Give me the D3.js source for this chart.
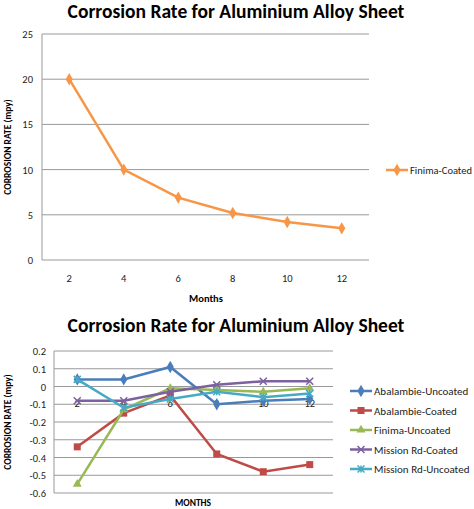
<!DOCTYPE html>
<html><head><meta charset="utf-8">
<script src="https://cdn.jsdelivr.net/npm/d3@7"></script>
<style>body{margin:0;background:#fff}text{font-family:Calibri,Carlito,"Open Sans",sans-serif}</style>
</head><body>
<svg id="c" width="474" height="509"></svg>
<script>
const months = ["2","4","6","8","10","12"];
const topTicks = [0,5,10,15,20,25];
const finimaCoated = [20,10,6.9,5.2,4.2,3.5];
const botTicks = [0.2,0.1,0,-0.1,-0.2,-0.3,-0.4,-0.5,-0.6];
const seriesNames = ["Abalambie-Uncoated","Abalambie-Coated","Finima-Uncoated","Mission Rd-Coated","Mission Rd-Uncoated"];
const seriesColors = ["#4a7ebb","#be4b48","#98b954","#7d60a0","#46aac5"];
const seriesMarkers = ["diamond","square","triangle","x","star"];
const abalambieUncoated = [0.04,0.04,0.11,-0.10,-0.08,-0.07];
const abalambieCoated = [-0.34,-0.15,-0.05,-0.38,-0.48,-0.44];
const finimaUncoated = [-0.55,-0.13,-0.01,-0.02,-0.03,-0.01];
const missionCoated = [-0.08,-0.08,-0.03,0.01,0.03,0.03];
const missionUncoated = [0.04,-0.12,-0.07,-0.03,-0.06,-0.04];
const seriesValues = [abalambieUncoated,abalambieCoated,finimaUncoated,missionCoated,missionUncoated];

const svg = d3.select("#c");
function marker(g, type, x, y, color, s){
  if(type==="diamond") g.append("path").attr("d",d3.symbol(d3.symbolDiamond,s*s*0.9)()).attr("transform",`translate(${x},${y})`).attr("fill",color);
  else if(type==="square") g.append("rect").attr("x",x-s/2).attr("y",y-s/2).attr("width",s).attr("height",s).attr("fill",color);
  else if(type==="triangle") g.append("path").attr("d",d3.symbol(d3.symbolTriangle,s*s*0.7)()).attr("transform",`translate(${x},${y})`).attr("fill",color);
  else { const r=s/2;
    g.append("path").attr("d",`M${x-r},${y-r}L${x+r},${y+r}M${x-r},${y+r}L${x+r},${y-r}`+(type==="star"?`M${x},${y-r}L${x},${y+r}`:"")).attr("stroke",color).attr("stroke-width",1.5);
  }
}

// Top chart
{
  const x = d3.scaleBand().domain(months).range([42,369]);
  const y = d3.scaleLinear().domain([0,25]).range([260,34]);
  const g = svg.append("g");
  g.append("text").attr("x",236).attr("y",18).attr("text-anchor","middle").attr("font-size",19.5).attr("font-weight","bold").text("Corrosion Rate for Aluminium Alloy Sheet");
  topTicks.forEach(t=>{
    g.append("line").attr("x1",42).attr("x2",369).attr("y1",y(t)).attr("y2",y(t)).attr("stroke","#999").attr("stroke-width",1);
    g.append("text").attr("x",33).attr("y",y(t)+4).attr("text-anchor","end").attr("font-size",10.5).attr("fill","#222").text(t);
  });
  g.append("line").attr("x1",42).attr("x2",42).attr("y1",34).attr("y2",260).attr("stroke","#999");
  months.forEach(m=>g.append("text").attr("x",x(m)+x.bandwidth()/2).attr("y",282).attr("text-anchor","middle").attr("font-size",10.5).attr("fill","#222").text(m));
  g.append("text").attr("x",206).attr("y",302).attr("text-anchor","middle").attr("font-size",10.5).attr("font-weight","bold").text("Months");
  g.append("text").attr("transform","translate(11,147) rotate(-90)").attr("text-anchor","middle").attr("font-size",9.5).attr("font-weight","bold").text("CORROSION RATE (mpy)");
  const line = d3.line().x((d,i)=>x(months[i])+x.bandwidth()/2).y(d=>y(d));
  g.append("path").attr("d",line(finimaCoated)).attr("fill","none").attr("stroke","#f79646").attr("stroke-width",2.5);
  finimaCoated.forEach((d,i)=>marker(g,"diamond",x(months[i])+x.bandwidth()/2,y(d),"#f79646",7));
  g.append("line").attr("x1",386).attr("x2",408).attr("y1",170).attr("y2",170).attr("stroke","#f79646").attr("stroke-width",2.5);
  marker(g,"diamond",397,170,"#f79646",7);
  g.append("text").attr("x",410).attr("y",174).attr("font-size",10.5).attr("fill","#222").text("Finima-Coated");
}

// Bottom chart
{
  const x = d3.scaleBand().domain(months).range([54,333]);
  const y = d3.scaleLinear().domain([-0.6,0.2]).range([493,351]);
  const g = svg.append("g");
  g.append("text").attr("x",236).attr("y",332).attr("text-anchor","middle").attr("font-size",19.5).attr("font-weight","bold").text("Corrosion Rate for Aluminium Alloy Sheet");
  botTicks.forEach(t=>{
    g.append("line").attr("x1",54).attr("x2",333).attr("y1",y(t)).attr("y2",y(t)).attr("stroke","#999");
    g.append("text").attr("x",46).attr("y",y(t)+4).attr("text-anchor","end").attr("font-size",10.5).attr("fill","#222").text(Math.round(t*10)/10);
  });
  g.append("line").attr("x1",54).attr("x2",54).attr("y1",351).attr("y2",493).attr("stroke","#999");
  months.forEach(m=>g.append("text").attr("x",x(m)+x.bandwidth()/2).attr("y",y(0)+20).attr("text-anchor","middle").attr("font-size",10.5).attr("fill","#222").text(m));
  g.append("text").attr("x",193).attr("y",506).attr("text-anchor","middle").attr("font-size",9.5).attr("font-weight","bold").text("MONTHS");
  g.append("text").attr("transform","translate(11,422) rotate(-90)").attr("text-anchor","middle").attr("font-size",9.5).attr("font-weight","bold").text("CORROSION RATE (mpy)");
  const line = d3.line().x((d,i)=>x(months[i])+x.bandwidth()/2).y(d=>y(d));
  seriesValues.forEach((vals,k)=>{
    g.append("path").attr("d",line(vals)).attr("fill","none").attr("stroke",seriesColors[k]).attr("stroke-width",2.5);
    vals.forEach((d,i)=>marker(g,seriesMarkers[k],x(months[i])+x.bandwidth()/2,y(d),seriesColors[k],7));
    const ly = 391 + k*19.5;
    g.append("line").attr("x1",350).attr("x2",372).attr("y1",ly).attr("y2",ly).attr("stroke",seriesColors[k]).attr("stroke-width",2.5);
    marker(g,seriesMarkers[k],361,ly,seriesColors[k],7);
    g.append("text").attr("x",374).attr("y",ly+4).attr("font-size",11).attr("fill","#222").text(seriesNames[k]);
  });
}
</script></body></html>
